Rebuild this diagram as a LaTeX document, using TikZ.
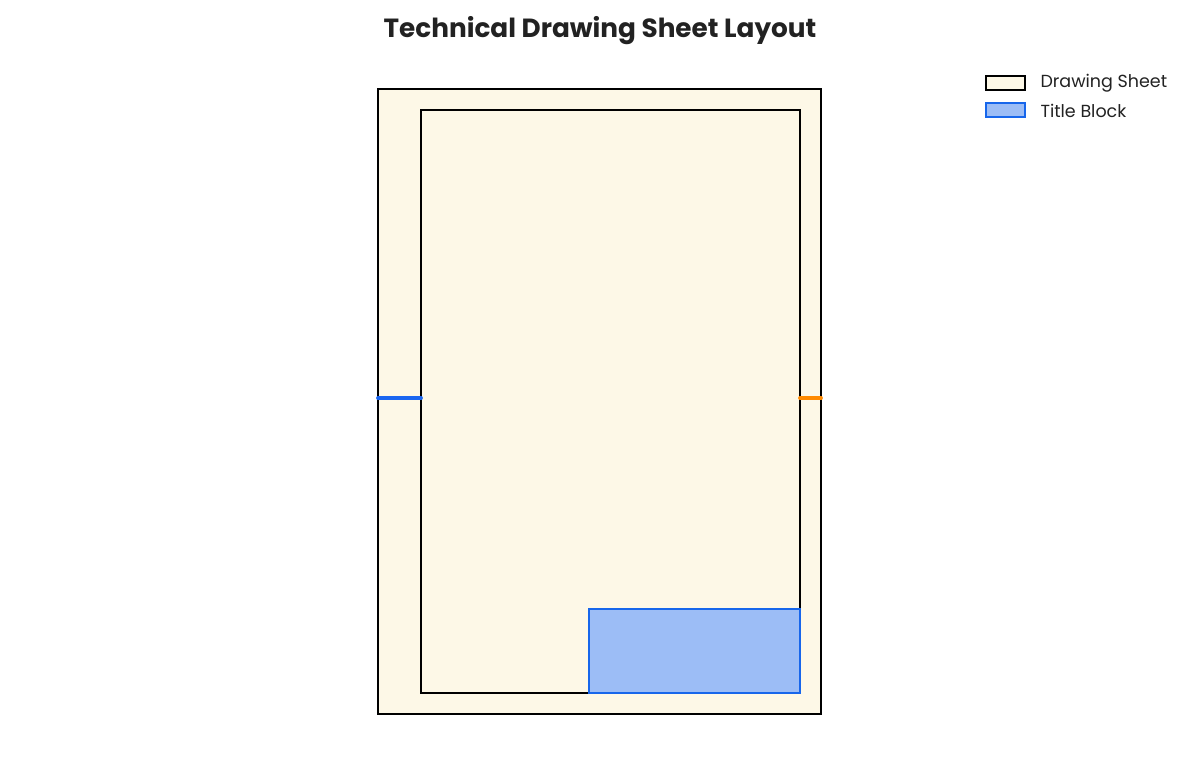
\documentclass[tikz,border=0pt]{standalone}
\usepackage{fontspec}
\setmainfont{Poppins}
\definecolor{sheetfill}{HTML}{FDF8E7}
\definecolor{blockfill}{HTML}{9CBDF6}
\definecolor{blockline}{HTML}{1766EB}
\definecolor{markblue}{HTML}{1A66F0}
\definecolor{markorange}{HTML}{FF8A00}
\definecolor{titlegray}{HTML}{222222}
\begin{document}
\begin{tikzpicture}[x=1pt, y=-1pt]
\useasboundingbox (0,0) rectangle (1200,763);
\node [titlegray, font=\fontsize{26.3}{30}\selectfont\bfseries] (title) at (600,31) {Technical Drawing Sheet Layout};
\draw [line width=2.5pt, fill=sheetfill] (378,89) rectangle (821,714);
\draw [line width=2.5pt] (421,110) rectangle (800,693);
\draw [line width=2.2pt, blockline, fill=blockfill] (589,609) rectangle (800,693);
\draw [line width=3.8pt, markblue, line cap=round] (378,398) -- (421,398);
\draw [line width=3.8pt, markorange, line cap=round] (800,398) -- (821,398);
\draw [line width=2.2pt, fill=sheetfill] (986,76) rectangle (1025,90);
\draw [line width=2.2pt, blockline, fill=blockfill] (986,103) rectangle (1025,117);
\node [right, font=\fontsize{17.5}{20}\selectfont, titlegray] (sheetlabel) at (1037,83) {Drawing Sheet};
\node [right, font=\fontsize{17.5}{20}\selectfont, titlegray] (blocklabel) at (1037,111) {Title Block};
\end{tikzpicture}
\end{document}
